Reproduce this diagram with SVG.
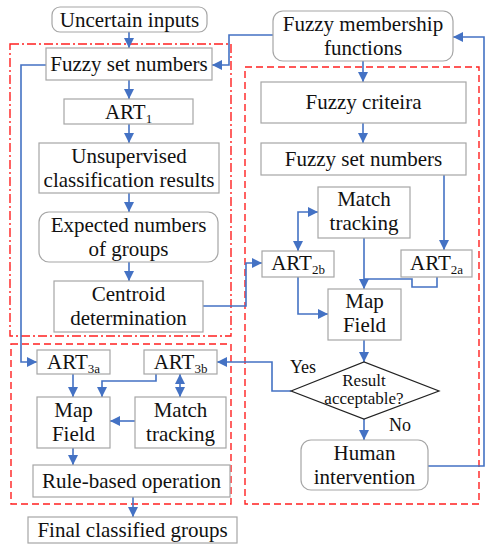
<svg xmlns="http://www.w3.org/2000/svg" width="493" height="550" viewBox="0 0 493 550" font-family="Liberation Serif, Times New Roman, serif">
<style>
.box{fill:#fff;stroke:#a6a6a6;stroke-width:1.2}
.dia{fill:#fff;stroke:#222;stroke-width:1.2}
text{font-family:"Liberation Serif",serif}
.t{font-size:21px;fill:#111;text-anchor:middle}
.s{font-size:18px;fill:#111;text-anchor:middle}
.sub{font-size:13px}
.c{fill:none;stroke:#4472c4;stroke-width:1.6}
.ca{marker-end:url(#ah)}
.cb{marker-start:url(#ah);marker-end:url(#ah)}
.rd{fill:none;stroke:#ff2020;stroke-width:1.4;stroke-dasharray:7 4}
.rdd{fill:none;stroke:#ff2020;stroke-width:1.4;stroke-dasharray:9 3 2 3}
</style>
<defs>
<marker id="ah" viewBox="0 0 10 10" refX="10" refY="5" markerWidth="10" markerHeight="10" markerUnits="userSpaceOnUse" orient="auto-start-reverse">
<path d="M0,0 L10,5 L0,10 z" fill="#4472c4"/>
</marker>
</defs>
<rect width="493" height="550" fill="#fff"/>
<g id="regions">
<rect class="rdd" x="10" y="44" width="221" height="292"/>
<rect class="rd" x="11" y="344" width="220" height="160"/>
<rect class="rd" x="245" y="67" width="234" height="437"/>
</g>
<g id="connectors">
<path class="c ca" d="M129,32 V48"/>
<path class="c ca" d="M129,80 V99"/>
<path class="c ca" d="M129,124 V143"/>
<path class="c ca" d="M129,193 V212"/>
<path class="c ca" d="M129,262 V281"/>
<path class="c ca" d="M203,306 H246 V263 H262"/>
<path class="c ca" d="M46,65 H21 V362 H37"/>
<path class="c ca" d="M273,35 H229 V65 H212"/>
<path class="c ca" d="M363,61 V82"/>
<path class="c ca" d="M363,123 V143"/>
<path class="c ca" d="M444,175 V250"/>
<path class="c cb" d="M298,251 V212 H318"/>
<path class="c ca" d="M364,238 V289"/>
<path class="c" d="M437,277 V287 H412 V279 H364"/>
<path class="c ca" d="M298,277 V314 H328"/>
<path class="c ca" d="M364,340 V362"/>
<path class="c ca" d="M291,391 H272 V362 H217"/>
<path class="c ca" d="M364,419 V440"/>
<path class="c ca" d="M428,466 H484 V37 H453"/>
<path class="c ca" d="M73,374 V397"/>
<path class="c ca" d="M156,374 V381 H102 V397"/>
<path class="c cb" d="M180,374 V397"/>
<path class="c ca" d="M135,421 H110"/>
<path class="c ca" d="M73,448 V465"/>
<path class="c ca" d="M133,497 V517"/>
<text class="s" x="303" y="373">Yes</text>
<text class="s" x="400" y="431">No</text>
</g>
<g id="uncertain-inputs"><rect class="box" x="52" y="7" width="155" height="25" rx="8"/><text class="t" x="129.5" y="27">Uncertain inputs</text></g>
<g id="fuzzy-set-numbers-left"><rect class="box" x="46" y="48" width="166" height="32"/><text class="t" x="129" y="71">Fuzzy set numbers</text></g>
<g id="art1"><rect class="box" x="64" y="99" width="129" height="25"/><text class="t" x="128.5" y="119">ART<tspan class="sub" dy="4">1</tspan></text></g>
<g id="unsupervised"><rect class="box" x="39" y="143" width="180" height="50"/><text class="t" x="129" y="163">Unsupervised</text><text class="t" x="129" y="187">classification results</text></g>
<g id="expected-numbers"><rect class="box" x="39" y="212" width="179" height="50" rx="10"/><text class="t" x="128.5" y="232">Expected numbers</text><text class="t" x="128.5" y="256">of groups</text></g>
<g id="centroid"><rect class="box" x="54" y="281" width="149" height="51"/><text class="t" x="128.5" y="301">Centroid</text><text class="t" x="128.5" y="325">determination</text></g>
<g id="art3a"><rect class="box" x="37" y="350" width="73" height="24"/><text class="t" x="73.5" y="369">ART<tspan class="sub" dy="4">3a</tspan></text></g>
<g id="art3b"><rect class="box" x="144" y="350" width="73" height="24"/><text class="t" x="180.5" y="369">ART<tspan class="sub" dy="4">3b</tspan></text></g>
<g id="map-field-left"><rect class="box" x="37" y="397" width="73" height="51"/><text class="t" x="73.5" y="417">Map</text><text class="t" x="73.5" y="441">Field</text></g>
<g id="match-tracking-left"><rect class="box" x="135" y="397" width="91" height="51"/><text class="t" x="180.5" y="417">Match</text><text class="t" x="180.5" y="441">tracking</text></g>
<g id="rule-based"><rect class="box" x="33" y="465" width="197" height="32"/><text class="t" x="131.5" y="488">Rule-based operation</text></g>
<g id="final-groups"><rect class="box" x="28" y="517" width="209" height="26"/><text class="t" x="132.5" y="537">Final classified groups</text></g>
<g id="fuzzy-membership"><rect class="box" x="273" y="11" width="180" height="50" rx="10"/><text class="t" x="363" y="31">Fuzzy membership</text><text class="t" x="363" y="55">functions</text></g>
<g id="fuzzy-criteira"><rect class="box" x="261" y="82" width="205" height="41"/><text class="t" x="363.5" y="109">Fuzzy criteira</text></g>
<g id="fuzzy-set-numbers-right"><rect class="box" x="261" y="143" width="205" height="32"/><text class="t" x="363.5" y="166">Fuzzy set numbers</text></g>
<g id="match-tracking-right"><rect class="box" x="318" y="187" width="92" height="51"/><text class="t" x="364" y="206">Match</text><text class="t" x="364" y="230">tracking</text></g>
<g id="art2b"><rect class="box" x="262" y="251" width="72" height="26"/><text class="t" x="298" y="270">ART<tspan class="sub" dy="4">2b</tspan></text></g>
<g id="art2a"><rect class="box" x="401" y="250" width="71" height="27"/><text class="t" x="436.5" y="270">ART<tspan class="sub" dy="4">2a</tspan></text></g>
<g id="map-field-right"><rect class="box" x="328" y="289" width="73" height="51"/><text class="t" x="364.5" y="308">Map</text><text class="t" x="364.5" y="332">Field</text></g>
<g id="result-acceptable"><polygon class="dia" points="291,391 364,362 439,391 364,419"/><text class="s" x="364" y="386" style="font-size:17px">Result</text><text class="s" x="364" y="404" style="font-size:17px">acceptable?</text></g>
<g id="human-intervention"><rect class="box" x="301" y="440" width="127" height="50" rx="10"/><text class="t" x="364.5" y="460">Human</text><text class="t" x="364.5" y="484">intervention</text></g>
</svg>
